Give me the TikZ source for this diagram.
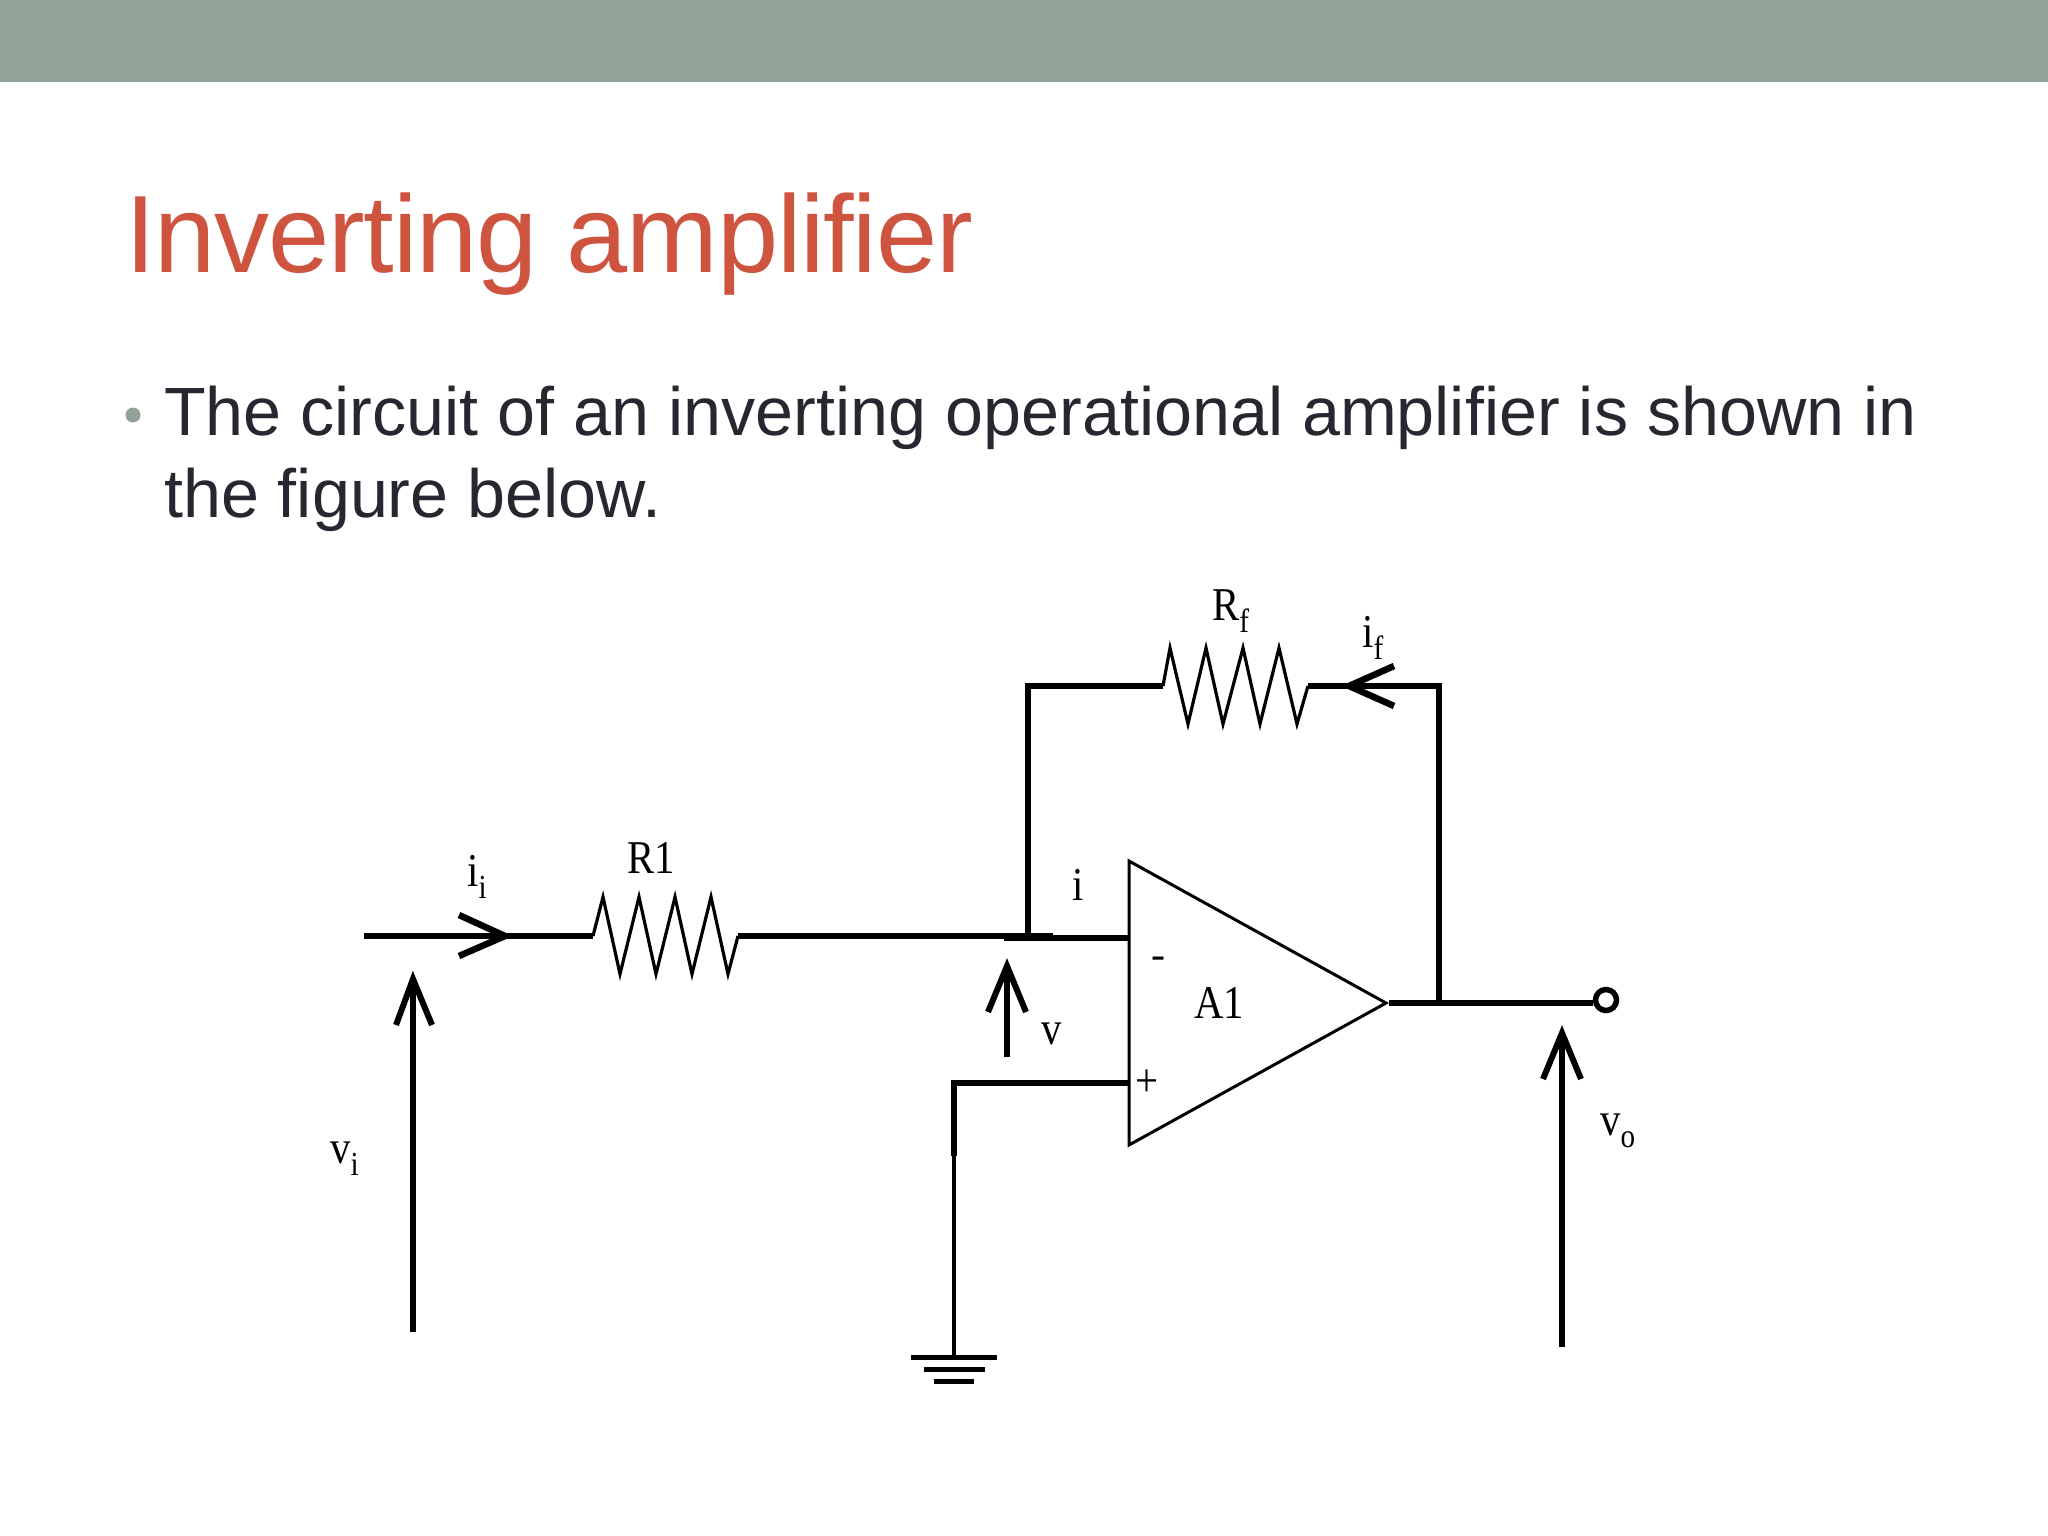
\documentclass[tikz,border=0pt]{standalone}
\usepackage{graphicx}
\usepackage{fontspec}
\setmainfont{Liberation Sans}
\newfontfamily\circuitfont{Liberation Serif}
\definecolor{bandgreen}{HTML}{93A299}
\definecolor{titlered}{HTML}{CF543F}
\definecolor{bodyink}{HTML}{272730}
\newcommand{\tallt}[1]{\scalebox{0.97}[1.12]{#1}}
\newcommand{\subtxt}[2]{\tallt{#1\raisebox{-0.27em}{\fontsize{30}{32}\selectfont #2}}}
\tikzset{
  heavy/.style={draw=black,line width=6pt,line join=miter},
  medium/.style={draw=black,line width=5pt},
  thin wire/.style={draw=black,line width=3.2pt,line join=miter},
  amp/.style={draw=black,line width=3pt,line join=miter},
  circ label/.style={font=\circuitfont\fontsize{42}{44}\selectfont,inner sep=0pt,text=black},
  title text/.style={anchor=base west,inner sep=0pt,text=titlered,font=\fontsize{110}{120}\selectfont\addfontfeature{LetterSpace=-1.1}},
  body text/.style={anchor=base west,inner sep=0pt,text=bodyink,font=\fontsize{68.25}{72}\selectfont}
}
\begin{document}
\begin{tikzpicture}[x=1pt,y=-1pt]
\useasboundingbox (0,0) rectangle (2048,1536);
\fill[white] (0,0) rectangle (2048,1536);
\fill[bandgreen] (0,0) rectangle (2048,82);
\node[title text] (title) at (125,272) {Inverting amplifier};
\fill[bandgreen] (133,415) circle (7.5);
\node[body text] (line1) at (164,435) {The circuit of an inverting operational amplifier is shown in};
\node[body text] (line2) at (164,517) {the figure below.};

% named points
\coordinate (inL) at (364,936);
\coordinate (inTip) at (505,936);
\coordinate (r1a) at (593,936);
\coordinate (r1b) at (738,936);
\coordinate (jR) at (1053,936);
\coordinate (jL) at (1004,938);
\coordinate (minus) at (1130,938);
\coordinate (plus) at (1130,1083);
\coordinate (jTop) at (1028,686);
\coordinate (jBot) at (1028,936);
\coordinate (rfa) at (1163,686);
\coordinate (rfb) at (1308,686);
\coordinate (fbTip) at (1349,686);
\coordinate (fbCorner) at (1439,686);
\coordinate (outJ) at (1439,1003);
\coordinate (outS) at (1389,1003);
\coordinate (gndCorner) at (954,1083);
\coordinate (gndMid) at (954,1156);
\coordinate (gnd) at (954,1357);

% op amp
\node[circle,draw=black,line width=5.5pt,minimum size=21pt,inner sep=0pt,fill=white] (ring) at (1606,1000) {};
\draw[amp] (1129,861) coordinate (ampTop) -- (1386,1003) coordinate (ampTip) -- (1129,1145) coordinate (ampBot) -- cycle;

% wires
\draw[heavy] (inL) -- (r1a);
\draw[thin wire] (r1a) -- (603,897) -- (620,974) -- (639,897) -- (656,974) -- (675,897) -- (692,974) -- (711,897) -- (728,974) -- (r1b);
\draw[heavy] (r1b) -- (jR);
\draw[heavy] (jL) -- (minus);
\draw[medium,line width=6pt] (jBot) -- ([yshift=-3pt]jTop);
\draw[heavy] (1025,686) -- (rfa);
\draw[thin wire] (rfa) -- (1170,648) -- (1188,724) -- (1206,648) -- (1223,724) -- (1243,648) -- (1260,724) -- (1279,648) -- (1297,724) -- (rfb);
\draw[heavy] (rfb) -- (1442,686);
\draw[medium,line width=6pt] (fbCorner) -- (outJ);
\draw[heavy] (outS) -- (ring.west |- outS);
\draw[heavy] (951,1083) -- (plus);
\draw[medium,line width=6pt] (gndCorner) -- (gndMid);
\draw[draw=black,line width=4pt] (gndMid) -- (gnd);

% ground
\draw[medium] (911,1357) -- (997,1357);
\draw[medium] (924,1369) -- (985,1369);
\draw[medium] (934,1381) -- (974,1381);

% arrowheads on the wires
\draw[heavy,line width=6.5pt] (459,915) -- (inTip) -- (459,956);
\draw[heavy,line width=6.5pt] (1394,666) -- (fbTip) -- (1394,706);

% measurement arrows
\draw[medium,line width=5.5pt] (413,1332) coordinate (viB) -- (413,980) coordinate (viT);
\draw[medium,line width=6pt] (396,1025) -- (413,979) -- (432,1025);
\draw[medium,line width=5.5pt] (1007,1057) coordinate (vB) -- (1007,968) coordinate (vT);
\draw[medium,line width=6pt] (988,1012) -- (1007,966) -- (1026,1012);
\draw[medium,line width=5.5pt] (1562,1347) coordinate (voB) -- (1562,1034) coordinate (voT);
\draw[medium,line width=6pt] (1543,1079) -- (1562,1033) -- (1581,1079);

% labels
\node[circ label,anchor=base] (lR1) at (651,873) {\tallt{R1}};
\node[circ label,anchor=base west] (lii) at (467,886) {\subtxt{i}{i}};
\node[circ label,anchor=base west] (lvi) at (330,1163) {\subtxt{v}{i}};
\node[circ label,anchor=base west] (lRf) at (1212,620) {\subtxt{R}{f}};
\node[circ label,anchor=base west] (lif) at (1362,647) {\subtxt{i}{f}};
\node[circ label,anchor=base] (li) at (1078,900) {\tallt{i}};
\node[circ label,anchor=base] (lv) at (1052,1044) {\tallt{v}};
\node[circ label,anchor=base] (lA1) at (1219,1018) {\tallt{A1}};
\node[circ label,anchor=base west] (lvo) at (1600,1135) {\subtxt{v}{o}};
\node[circ label,anchor=base] (lminus) at (1158,968) {-};
\node[circ label,anchor=base] (lplus) at (1147,1096) {\tallt{+}};
\end{tikzpicture}
\end{document}
